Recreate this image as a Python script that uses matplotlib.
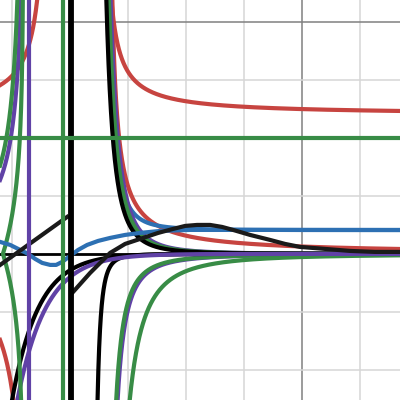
import numpy as np
import matplotlib
matplotlib.use("Agg")
import matplotlib.pyplot as plt

RED, BLUE, GREEN, PURPLE, BLACK = "#c74440", "#2d70b3", "#388c46", "#6042a6", "#000000"

# view window (graph units)
x_range = (-1.21, 5.69)
y_range = (-2.52, 4.38)

# vertical lines x = c
vlines = [(0.02, BLACK, 4.2), (-0.12, GREEN, 3.0), (-0.71, PURPLE, 3.0)]
# horizontal line y = 2
hlines = [(2.0, GREEN)]

# y = base + a / (x - c)**n on the right side of c
right_branches = [
    # base, a, c, n, colour
    (2.4, 0.34, 0.54, 1, RED),
    (0.0, 0.43, 0.63, 1, RED),
    (0.41, 0.124, 0.345, 3, BLUE),
    (0.0, 0.32, 0.28, 3, PURPLE),
    (0.0, 0.28, 0.27, 3, GREEN),
    (0.0, 0.23, 0.25, 3, BLACK),
    (0.0, -0.013, 0.30, 3, BLACK),
    (0.0, -0.21, 0.53, 2, PURPLE),
    (0.0, -0.19, 0.52, 2, GREEN),
    (0.0, -0.65, 0.52, 2, GREEN),
]
# y = base + a / (c - x) on the left side of c
left_branches = [
    (2.4, 0.44, -0.347, RED),
    (0.0, -0.83, -0.65, RED),
    (0.0, 0.65, -0.70, PURPLE),
    (0.0, 0.70, -0.75, GREEN),
]
# y = -amp * exp(-k (x - x0))
exp_curves = [(2.4, 2.19, -0.98, BLACK), (2.52, 2.03, -0.91, PURPLE)]

# pixel readings of the wavy curves (px, py)
blue_px = [0, 10, 20, 28, 35, 42, 50, 56, 62, 70, 78, 87, 98, 110, 125, 140, 160, 190, 230, 300, 400]
blue_py = [242, 245, 250, 254, 259, 263, 265, 265, 262, 256, 250, 245, 241, 238, 235, 233, 231, 230, 230, 230, 230]
black_a_px = [0, 67]
black_a_py = [265, 217]
black_b_px = [73, 90, 110, 125, 143, 158, 173, 185, 197, 210, 222, 233, 250, 270, 285, 300, 325, 350, 375, 400]
black_b_py = [292, 273, 253, 244, 238, 233, 229, 226, 225, 225, 227, 230, 235, 240, 244, 247, 249, 251, 252, 252]

def to_units(px, py):
    return (np.array(px) - 70) / 58.0, (254 - np.array(py)) / 58.0

fig = plt.figure(figsize=(4, 4), dpi=100)
ax = fig.add_axes([0, 0, 1, 1])
ax.set_xlim(*x_range)
ax.set_ylim(*y_range)
ax.axis("off")

for g in range(-1, 6):
    c = "#808080" if g == 4 else "#d6d6d6"
    ax.axvline(g, color=c, lw=1.1, zorder=0)
for g in range(-2, 5):
    c = "#808080" if g == 4 else "#d6d6d6"
    ax.axhline(g, color=c, lw=1.1, zorder=0)
ax.axhline(0, color=BLACK, lw=2.0, zorder=1)

LW = 3.0
for base, a, c, n, col in right_branches:
    x = np.linspace(c + 1e-3, x_range[1], 3000)
    y = base + a / (x - c) ** n
    y[(y > 10) | (y < -10)] = np.nan
    ax.plot(x, y, color=col, lw=LW)
for base, a, c, col in left_branches:
    x = np.linspace(x_range[0], c - 1e-3, 2000)
    y = base + a / (c - x)
    y[(y > 10) | (y < -10)] = np.nan
    ax.plot(x, y, color=col, lw=LW)
for amp, k, x0, col in exp_curves:
    x = np.linspace(x_range[0], x_range[1], 1000)
    ax.plot(x, -amp * np.exp(-k * (x - x0)), color=col, lw=LW)

# left green loop with vertical asymptote
yy = np.linspace(y_range[0], y_range[1], 800)
ax.plot(-0.81 - 0.35 * np.exp(-0.9 * np.abs(yy)), yy, color=GREEN, lw=LW)

ax.plot(*to_units(blue_px, blue_py), color=BLUE, lw=LW)
ax.plot(*to_units(black_a_px, black_a_py), color="#1a1a1a", lw=LW)
ax.plot(*to_units(black_b_px, black_b_py), color="#1a1a1a", lw=LW)

for c, col, lw in vlines:
    ax.axvline(c, color=col, lw=lw)
for c, col in hlines:
    ax.axhline(c, color=col, lw=LW)

fig.savefig("out.png", dpi=100)
